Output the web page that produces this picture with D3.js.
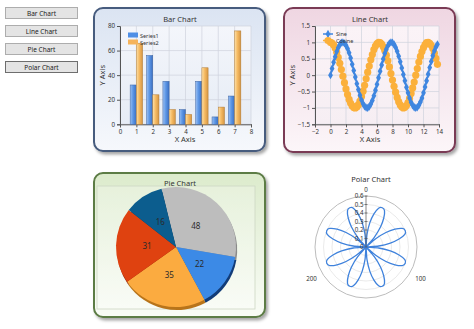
<!DOCTYPE html>
<html>
<head>
<meta charset="utf-8">
<script src="https://cdn.jsdelivr.net/npm/d3@7"></script>
<style>
  html, body { margin: 0; padding: 0; background: #fff; }
  svg { display: block; font-family: "Noto Sans", "Open Sans", sans-serif; }
</style>
</head>
<body>
<svg id="app" width="474" height="329"></svg>
<script>
// ---- data ----
const buttonLabels = ["Bar Chart", "Line Chart", "Pie Chart", "Polar Chart"];

const barCategories = [1, 2, 3, 4, 5, 6, 7];
const barSeries1 = [32, 56, 35, 12, 35, 6, 23];
const barSeries2 = [66, 24, 12, 8, 46, 14, 76];
const barXTicks = [0, 1, 2, 3, 4, 5, 6, 7, 8];
const barYTicks = [0, 20, 40, 60, 80];

const lineSine = [
  0.00, 0.20, 0.39, 0.56, 0.72, 0.84, 0.93, 0.99, 1.00, 0.97,
  0.91, 0.81, 0.68, 0.52, 0.33, 0.14, -0.06, -0.26, -0.44, -0.61,
  -0.76, -0.87, -0.95, -0.99, -1.00, -0.96, -0.88, -0.77, -0.63, -0.46,
  -0.28, -0.08, 0.12, 0.31, 0.49, 0.66, 0.79, 0.90, 0.97, 1.00,
  0.99, 0.94, 0.85, 0.73, 0.58, 0.41, 0.22, 0.02, -0.17, -0.37,
  -0.54, -0.70, -0.83, -0.92, -0.98, -1.00, -0.98, -0.92, -0.82, -0.70,
  -0.54, -0.36, -0.17, 0.03, 0.23, 0.42, 0.59, 0.74, 0.86, 0.94
];
const lineCosine = [
  1.00, 0.98, 0.92, 0.83, 0.70, 0.54, 0.36, 0.17, -0.03, -0.23,
  -0.42, -0.59, -0.74, -0.86, -0.94, -0.99, -1.00, -0.97, -0.90, -0.79,
  -0.65, -0.49, -0.31, -0.11, 0.09, 0.28, 0.47, 0.63, 0.78, 0.89,
  0.96, 1.00, 0.99, 0.95, 0.87, 0.75, 0.61, 0.44, 0.25, 0.05,
  -0.15, -0.34, -0.52, -0.68, -0.81, -0.91, -0.97, -1.00, -0.98, -0.93,
  -0.84, -0.71, -0.56, -0.39, -0.21, 0.00, 0.20, 0.40, 0.57, 0.72,
  0.84, 0.93, 0.99, 1.00, 0.97, 0.91, 0.81, 0.67, 0.51, 0.33
];
const lineStep = 0.2;
const lineXTicks = [-2, 0, 2, 4, 6, 8, 10, 12, 14];
const lineYTicks = [-1.5, -1, -0.5, 0, 0.5, 1, 1.5];

const pieLabels = ["A", "B", "C", "D", "E"];
const pieValues = [48, 22, 35, 31, 16];
const pieColors = ["#bdbdbd", "#3c8ae6", "#fbab40", "#df4210", "#0c5d8e"];
const pieRimColors = ["#8a8a8a", "#123c78", "#b8741a", "#8f2606", "#063050"];

// rose curve radius, sampled along the angular axis (units 0..300)
const polarStep = 3.75;
const polarRadius = [
  0.00, 0.15, 0.29, 0.40, 0.48, 0.50, 0.48, 0.40, 0.29, 0.15,
  0.00, 0.15, 0.29, 0.40, 0.48, 0.50, 0.48, 0.40, 0.29, 0.15,
  0.00, 0.15, 0.29, 0.40, 0.48, 0.50, 0.48, 0.40, 0.29, 0.15,
  0.00, 0.15, 0.29, 0.40, 0.48, 0.50, 0.48, 0.40, 0.29, 0.15,
  0.00, 0.15, 0.29, 0.40, 0.48, 0.50, 0.48, 0.40, 0.29, 0.15,
  0.00, 0.15, 0.29, 0.40, 0.48, 0.50, 0.48, 0.40, 0.29, 0.15,
  0.00, 0.15, 0.29, 0.40, 0.48, 0.50, 0.48, 0.40, 0.29, 0.15,
  0.00, 0.15, 0.29, 0.40, 0.48, 0.50, 0.48, 0.40, 0.29, 0.15
];
const polarRTicks = [0, 0.1, 0.2, 0.3, 0.4, 0.5, 0.6];
const polarAngleTicks = [0, 100, 200];

// ---- setup ----
const svg = d3.select("#app");
const defs = svg.append("defs");

function vGrad(id, top, bottom) {
  const g = defs.append("linearGradient").attr("id", id)
    .attr("x1", 0).attr("y1", 0).attr("x2", 0).attr("y2", 1);
  g.append("stop").attr("offset", "0%").attr("stop-color", top);
  g.append("stop").attr("offset", "100%").attr("stop-color", bottom);
}
function hGrad(id, stops) {
  const g = defs.append("linearGradient").attr("id", id)
    .attr("x1", 0).attr("y1", 0).attr("x2", 1).attr("y2", 0);
  stops.forEach(([o, c]) => g.append("stop").attr("offset", o).attr("stop-color", c));
}
vGrad("bgBar", "#dbe4f2", "#f6f8fc");
vGrad("bgLine", "#efd6e2", "#fcf6f9");
vGrad("bgPie", "#dcebcc", "#f9fcf6");
vGrad("plotBar", "#f4f6fb", "#e6ecf5");
vGrad("plotLine", "#fbf3f7", "#f6eef3");
hGrad("barBlue", [["0%", "#9cc0f2"], ["45%", "#5d97e6"], ["100%", "#3b6fc2"]]);
hGrad("barOrange", [["0%", "#fde0a8"], ["45%", "#f6bb63"], ["100%", "#d59543"]]);

const shadow = defs.append("filter").attr("id", "shadow")
  .attr("x", "-10%").attr("y", "-10%").attr("width", "125%").attr("height", "125%");
shadow.append("feDropShadow").attr("dx", 2).attr("dy", 2.5)
  .attr("stdDeviation", 1.6).attr("flood-color", "#000").attr("flood-opacity", 0.35);

// ---- buttons ----
const btn = svg.append("g");
buttonLabels.forEach((t, i) => {
  const y = 7 + i * 18;
  btn.append("rect").attr("x", 5.5).attr("y", y + 0.5).attr("width", 72).attr("height", 11)
    .attr("fill", "#e4e4e4")
    .attr("stroke", i === 3 ? "#6e6e6e" : "#adadad").attr("stroke-width", 1);
  btn.append("text").attr("x", 41.5).attr("y", y + 9).attr("text-anchor", "middle")
    .attr("font-size", 6.5).attr("fill", "#222").text(t);
});

// ---- shared helpers ----
function panel(x, y, w, h, fill, stroke) {
  svg.append("rect").attr("x", x).attr("y", y).attr("width", w).attr("height", h)
    .attr("rx", 9).attr("ry", 9).attr("fill", fill)
    .attr("stroke", stroke).attr("stroke-width", 2).attr("filter", "url(#shadow)");
}
function title(x, y, t, size) {
  svg.append("text").attr("x", x).attr("y", y).attr("text-anchor", "middle")
    .attr("font-size", size || 7.5).attr("fill", "#333").text(t);
}
function styleAxis(g) {
  g.selectAll("path.domain").attr("stroke", "#555");
  g.selectAll(".tick line").attr("stroke", "#555");
  g.selectAll(".tick text").attr("fill", "#333").attr("font-size", 6.2)
    .attr("font-family", "'Noto Sans', 'Open Sans', sans-serif");
}
function cartesianFrame(x, y, xTicks, yTicks, xFmt, yFmt, plotFill, cx, yLabelX) {
  const [x0, x1] = x.range();
  const [y0, y1] = y.range();
  svg.append("rect").attr("x", x0).attr("y", y1).attr("width", x1 - x0).attr("height", y0 - y1)
    .attr("fill", plotFill);
  const grid = svg.append("g").attr("stroke", "#cfd3dc").attr("stroke-width", 0.7);
  xTicks.forEach(v => grid.append("line").attr("x1", x(v)).attr("x2", x(v)).attr("y1", y0).attr("y2", y1));
  yTicks.forEach(v => grid.append("line").attr("x1", x0).attr("x2", x1).attr("y1", y(v)).attr("y2", y(v)));
  const gx = svg.append("g").attr("transform", `translate(0,${y0})`)
    .call(d3.axisBottom(x).tickValues(xTicks).tickFormat(xFmt).tickSize(3).tickPadding(2));
  const gy = svg.append("g").attr("transform", `translate(${x0},0)`)
    .call(d3.axisLeft(y).tickValues(yTicks).tickFormat(yFmt).tickSize(3).tickPadding(2));
  styleAxis(gx); styleAxis(gy);
  svg.append("text").attr("x", cx).attr("y", y0 + 18).attr("text-anchor", "middle")
    .attr("font-size", 7.5).attr("fill", "#333").text("X Axis");
  svg.append("text").attr("transform", `translate(${yLabelX},${(y0 + y1) / 2}) rotate(-90)`)
    .attr("text-anchor", "middle").attr("font-size", 7.5).attr("fill", "#333").text("Y Axis");
}

// ---- bar chart ----
panel(94, 8, 171, 143, "url(#bgBar)", "#465b7e");
title(180, 22, "Bar Chart");
{
  const x = d3.scaleLinear().domain([0, 8]).range([120, 251]);
  const y = d3.scaleLinear().domain([0, 80]).range([124.3, 26]);
  cartesianFrame(x, y, barXTicks, barYTicks, d3.format("d"), d3.format("d"), "url(#plotBar)", 185, 105);
  const bw = 0.38;
  const bars = svg.append("g");
  barCategories.forEach((c, i) => {
    bars.append("rect").attr("x", x(c - bw)).attr("y", y(barSeries1[i]))
      .attr("width", x(c) - x(c - bw)).attr("height", y(0) - y(barSeries1[i]))
      .attr("fill", "url(#barBlue)").attr("stroke", "#3c63a0").attr("stroke-width", 0.5);
    bars.append("rect").attr("x", x(c)).attr("y", y(barSeries2[i]))
      .attr("width", x(c + bw) - x(c)).attr("height", y(0) - y(barSeries2[i]))
      .attr("fill", "url(#barOrange)").attr("stroke", "#b07a33").attr("stroke-width", 0.5);
  });
  const lg = svg.append("g");
  [["Series1", "#4f8fe6"], ["Series2", "#f5b35a"]].forEach(([t, c], i) => {
    lg.append("rect").attr("x", 128).attr("y", 32.5 + i * 7).attr("width", 10).attr("height", 5).attr("fill", c);
    lg.append("text").attr("x", 140).attr("y", 37.5 + i * 7).attr("font-size", 5.5).attr("fill", "#333").text(t);
  });
}

// ---- line chart ----
panel(284, 8, 171, 144, "url(#bgLine)", "#7a3a55");
title(370, 22, "Line Chart");
{
  const x = d3.scaleLinear().domain([-2, 14]).range([315, 439]);
  const y = d3.scaleLinear().domain([-1.5, 1.5]).range([124.3, 26]);
  cartesianFrame(x, y, lineXTicks, lineYTicks, d3.format("d"), d => d3.format("")(d), "url(#plotLine)", 370, 295);
  const sinePts = lineSine.map((v, i) => [i * lineStep, v]);
  const cosPts = lineCosine.map((v, i) => [i * lineStep, v]);
  const line = d3.line().x(d => x(d[0])).y(d => y(d[1]));
  const blue = "#3f86e0", orange = "#fbb03b";

  svg.append("path").datum(cosPts).attr("d", line).attr("fill", "none")
    .attr("stroke", orange).attr("stroke-width", 1.5);
  svg.append("g").selectAll("circle").data(cosPts).join("circle")
    .attr("cx", d => x(d[0])).attr("cy", d => y(d[1])).attr("r", 3.6).attr("fill", orange);

  svg.append("path").datum(sinePts).attr("d", line).attr("fill", "none")
    .attr("stroke", blue).attr("stroke-width", 1.5);
  const diamond = d3.symbol().type(d3.symbolDiamond).size(20);
  svg.append("g").selectAll("path").data(sinePts).join("path")
    .attr("transform", d => `translate(${x(d[0])},${y(d[1])})`).attr("d", diamond).attr("fill", blue);

  const lg = svg.append("g");
  lg.append("line").attr("x1", 323).attr("x2", 333).attr("y1", 34).attr("y2", 34).attr("stroke", blue).attr("stroke-width", 1.5);
  lg.append("path").attr("transform", "translate(328,34)").attr("d", diamond).attr("fill", blue);
  lg.append("line").attr("x1", 323).attr("x2", 333).attr("y1", 40.5).attr("y2", 40.5).attr("stroke", orange).attr("stroke-width", 1.5);
  lg.append("circle").attr("cx", 328).attr("cy", 40.5).attr("r", 3.6).attr("fill", orange);
  lg.append("text").attr("x", 336).attr("y", 36).attr("font-size", 5.5).attr("fill", "#333").text("Sine");
  lg.append("text").attr("x", 336).attr("y", 42.5).attr("font-size", 5.5).attr("fill", "#333").text("Cosine");
}

// ---- pie chart ----
panel(94, 173, 171, 144, "url(#bgPie)", "#5c7b45");
svg.append("rect").attr("x", 97).attr("y", 186).attr("width", 158).attr("height", 123)
  .attr("fill", "rgba(255,255,255,0.25)").attr("stroke", "#cdd8c4").attr("stroke-width", 0.8);
title(180, 186, "Pie Chart");
{
  const cx = 176, cy = 247, R = 60;
  const start = -14 * Math.PI / 180;
  const pie = d3.pie().sort(null).startAngle(start).endAngle(start + 2 * Math.PI)(pieValues);
  const arc = d3.arc().innerRadius(0).outerRadius(R);
  const rim = svg.append("g").attr("transform", `translate(${cx + 1.2},${cy + 3})`);
  rim.selectAll("path").data(pie).join("path").attr("d", arc).attr("fill", (d, i) => pieRimColors[i]);
  const g = svg.append("g").attr("transform", `translate(${cx},${cy})`);
  g.selectAll("path").data(pie).join("path").attr("d", arc).attr("fill", (d, i) => pieColors[i]);
  const lab = d3.arc().innerRadius(29).outerRadius(29);
  g.selectAll("text").data(pie).join("text")
    .attr("transform", d => `translate(${lab.centroid(d)})`)
    .attr("text-anchor", "middle").attr("dy", "0.35em")
    .attr("font-size", 8).attr("fill", "#2a2a2a").text(d => d.data);
}

// ---- polar chart ----
title(371, 182, "Polar Chart");
{
  const cx = 366, cy = 247;
  const r = d3.scaleLinear().domain([0, 0.6]).range([0, 51]);
  const a = d3.scaleLinear().domain([0, 300]).range([0, 2 * Math.PI]);
  const g = svg.append("g").attr("transform", `translate(${cx},${cy})`);
  polarRTicks.slice(1).forEach(v => {
    g.append("circle").attr("r", r(v)).attr("fill", "none")
      .attr("stroke", v === 0.6 ? "#bdbdbd" : "#e4e4e4").attr("stroke-width", v === 0.6 ? 1 : 0.8);
  });
  polarAngleTicks.forEach(v => {
    const t = a(v);
    const lr = v === 0 ? r(0.6) + 4 : r(0.6) + 12;
    g.append("text").attr("x", Math.sin(t) * lr).attr("y", -Math.cos(t) * lr)
      .attr("text-anchor", "middle").attr("dy", v === 0 ? "0" : "0.35em")
      .attr("font-size", 6.2).attr("fill", "#333").text(v);
  });
  const rose = d3.lineRadial()
    .angle((d, i) => a(i * polarStep))
    .radius(d => r(d))
    .curve(d3.curveCardinalClosed.tension(0.2));
  g.append("path").datum(polarRadius).attr("d", rose).attr("fill", "none")
    .attr("stroke", "#3f82dc").attr("stroke-width", 1.3);
  g.append("circle").attr("r", 2.5).attr("fill", "#3f82dc");
  // radial axis along the zero direction
  g.append("line").attr("x1", 0).attr("x2", 0).attr("y1", 0).attr("y2", -r(0.6)).attr("stroke", "#555").attr("stroke-width", 0.7);
  polarRTicks.forEach(v => {
    g.append("line").attr("x1", -1.5).attr("x2", 1.5).attr("y1", -r(v)).attr("y2", -r(v)).attr("stroke", "#555").attr("stroke-width", 0.7);
    g.append("text").attr("x", -2.5).attr("y", -r(v)).attr("dy", "0.35em").attr("text-anchor", "end")
      .attr("font-size", 6.2).attr("fill", "#333").text(v);
  });
}
</script>
</body>
</html>
